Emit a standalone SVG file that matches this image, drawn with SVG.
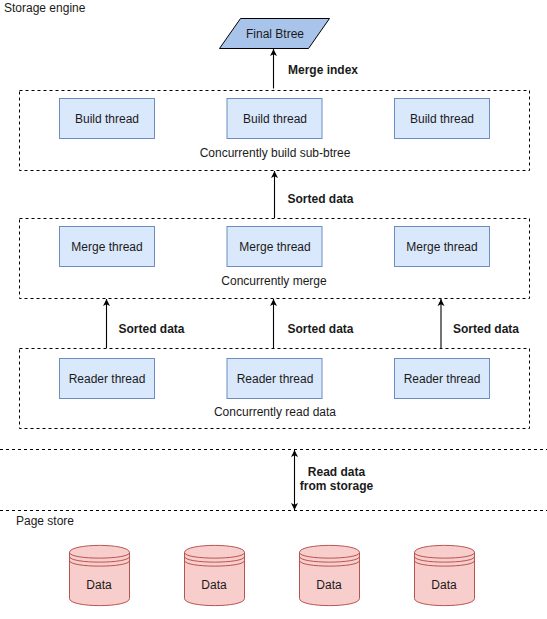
<svg xmlns="http://www.w3.org/2000/svg" width="547" height="619" viewBox="0 0 547 619">
<defs>
<marker id="a" viewBox="0 0 8 8" markerWidth="8" markerHeight="8" refX="7" refY="4" orient="auto-start-reverse" markerUnits="userSpaceOnUse"><path d="M7 4L0 7.500L1.750 4L0 .5Z" fill="#000"/></marker>
</defs>
<style>
text{font-family:"Liberation Sans",Arial,sans-serif;font-size:12px;fill:#1a1a1a;text-anchor:middle}
.l{text-anchor:start}
.b{font-weight:bold}
.g{fill:#fff;stroke:#000;stroke-dasharray:3 3}
.n{fill:#dae8fc;stroke:#6c8ebf}
.d{fill:#f8cecc;stroke:#b85450}
.c{fill:none;stroke:#000;stroke-width:1.1;marker-end:url(#a)}
.h{fill:none;stroke:#000;stroke-dasharray:3 3}
</style>
<text class="l" x="4" y="12">Storage engine</text>
<text class="l" x="16" y="525">Page store</text>
<g id="group-build"><rect class="g" x="19.500" y="90.500" width="510" height="80"/><text x="275" y="157">Concurrently build sub-btree</text></g>
<g id="group-merge"><rect class="g" x="19.500" y="218.500" width="510" height="80"/><text x="274" y="285">Concurrently merge</text></g>
<g id="group-read"><rect class="g" x="19.500" y="348.500" width="510" height="80"/><text x="275" y="416">Concurrently read data</text></g>
<g id="final"><path d="M219.500 48.500L240.500 18.500H329.500L308.500 48.500Z" fill="#a9c4eb" stroke="#000"/><text x="275" y="38">Final Btree</text></g>
<g id="build1"><rect class="n" x="59.500" y="98.500" width="95" height="40"/><text x="107" y="123">Build thread</text></g>
<g id="build2"><rect class="n" x="227" y="98.500" width="95" height="40"/><text x="275" y="123">Build thread</text></g>
<g id="build3"><rect class="n" x="394.500" y="98.500" width="95" height="40"/><text x="442" y="123">Build thread</text></g>
<g id="merge1"><rect class="n" x="59.500" y="226.500" width="95" height="40"/><text x="107" y="251">Merge thread</text></g>
<g id="merge2"><rect class="n" x="227" y="226.500" width="95" height="40"/><text x="275" y="251">Merge thread</text></g>
<g id="merge3"><rect class="n" x="394.500" y="226.500" width="95" height="40"/><text x="442" y="251">Merge thread</text></g>
<g id="reader1"><rect class="n" x="59.500" y="358.500" width="95" height="40"/><text x="107" y="383">Reader thread</text></g>
<g id="reader2"><rect class="n" x="227" y="358.500" width="95" height="40"/><text x="275" y="383">Reader thread</text></g>
<g id="reader3"><rect class="n" x="394.500" y="358.500" width="95" height="40"/><text x="442" y="383">Reader thread</text></g>
<g id="connectors">
<path class="c" d="M273.500 88.500V49"/>
<path class="c" d="M274.500 218V171"/>
<path class="c" d="M106.500 348V299"/>
<path class="c" d="M273.500 348V299"/>
<path class="c" d="M441 348V299"/>
<path class="c" d="M294.500 480V450"/>
<path class="c" d="M294.500 480V510"/>
<path class="h" d="M0 449.500H547"/>
<path class="h" d="M0 510.500H547"/>
</g>
<text class="b" x="323" y="74">Merge index</text>
<text class="b" x="320.500" y="203">Sorted data</text>
<text class="b" x="151.500" y="333">Sorted data</text>
<text class="b" x="320.500" y="333">Sorted data</text>
<text class="b" x="486" y="333">Sorted data</text>
<text class="b" x="336.500" y="476">Read data</text>
<text class="b" x="336.500" y="490">from storage</text>
<g id="data1"><path class="d" d="M69.500 552.500C69.500 543 129.500 543 129.500 552.500V598.500C129.500 608 69.500 608 69.500 598.500Z"/><path class="d" style="fill:none" d="M69.500 552.500C69.500 560 129.500 560 129.500 552.500M69.500 556.500C69.500 564 129.500 564 129.500 556.500M69.500 560.500C69.500 568 129.500 568 129.500 560.500"/><text x="99" y="589">Data</text></g>
<g id="data2"><path class="d" d="M184.500 552.500C184.500 543 244.500 543 244.500 552.500V598.500C244.500 608 184.500 608 184.500 598.500Z"/><path class="d" style="fill:none" d="M184.500 552.500C184.500 560 244.500 560 244.500 552.500M184.500 556.500C184.500 564 244.500 564 244.500 556.500M184.500 560.500C184.500 568 244.500 568 244.500 560.500"/><text x="214" y="589">Data</text></g>
<g id="data3"><path class="d" d="M299.500 552.500C299.500 543 359.500 543 359.500 552.500V598.500C359.500 608 299.500 608 299.500 598.500Z"/><path class="d" style="fill:none" d="M299.500 552.500C299.500 560 359.500 560 359.500 552.500M299.500 556.500C299.500 564 359.500 564 359.500 556.500M299.500 560.500C299.500 568 359.500 568 359.500 560.500"/><text x="329" y="589">Data</text></g>
<g id="data4"><path class="d" d="M414.500 552.500C414.500 543 474.500 543 474.500 552.500V598.500C474.500 608 414.500 608 414.500 598.500Z"/><path class="d" style="fill:none" d="M414.500 552.500C414.500 560 474.500 560 474.500 552.500M414.500 556.500C414.500 564 474.500 564 474.500 556.500M414.500 560.500C414.500 568 474.500 568 474.500 560.500"/><text x="444" y="589">Data</text></g>
</svg>
